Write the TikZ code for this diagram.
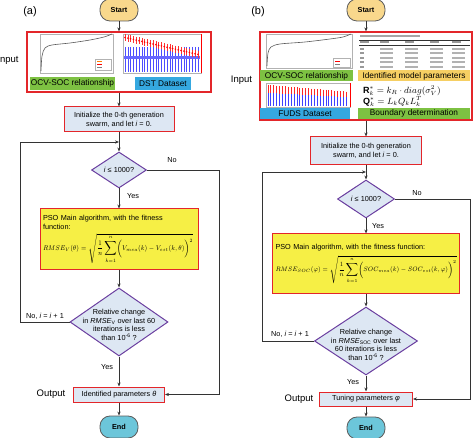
\documentclass[tikz,border=0pt]{standalone}
\usepackage{graphicx}
\usepackage{fontspec}
\setmainfont{Liberation Sans}
\usetikzlibrary{shapes.geometric,arrows.meta}

\definecolor{boxred}{HTML}{E3262A}
\definecolor{paleblue}{HTML}{DDE7F3}
\definecolor{fityellow}{HTML}{F6EF45}
\definecolor{startorange}{HTML}{F9D88C}
\definecolor{endcyan}{HTML}{6CC6DA}
\definecolor{dpurple}{HTML}{6B3FA0}
\definecolor{taggreen}{HTML}{7DC142}
\definecolor{tagblue}{HTML}{35A8E0}
\definecolor{tagyellow}{HTML}{F6CF63}
\definecolor{linegray}{HTML}{333333}

\tikzstyle{terminal} = [draw=linegray!80,line width=0.8pt,rounded corners=10pt,minimum width=38pt,minimum height=22pt,font=\fontsize{7.3}{8}\selectfont\bfseries]
\tikzstyle{process} = [draw=boxred,line width=1pt,fill=paleblue,align=center,inner sep=1pt]
\tikzstyle{decision} = [diamond,draw=dpurple,line width=1pt,fill=paleblue,inner sep=0pt]
\tikzstyle{fitness} = [draw=boxred,line width=1pt,fill=fityellow,align=left,inner sep=3pt]
\tikzstyle{inputbox} = [draw=boxred,line width=1.2pt,inner sep=0pt]
\tikzstyle{tag} = [inner sep=0pt,font=\fontsize{8.3}{9}\selectfont]
\tikzstyle{sidelabel} = [font=\fontsize{9.5}{11}\selectfont]
\tikzstyle{flow} = [-{Stealth[length=4pt,width=3.2pt]},linegray,line width=0.7pt]
\tikzstyle{frame} = [gray!60,line width=0.3pt]

\begin{document}
\begin{tikzpicture}[x=1pt,y=-1pt,font=\fontsize{7.3}{8.7}\selectfont]
		\useasboundingbox (0,0) rectangle (474,438);
		% ---------- (a) ----------
		\node[font=\fontsize{11}{12}\selectfont] (pa) at (30,12) {(a)};
		\node[terminal,fill=startorange] (sa) at (119,10) {Start};
		\node[inputbox,minimum width=184pt,minimum height=60pt] (ina) at (119,62) {};
		% OCV-SOC curve
		\draw[frame] (40,34) rectangle (113,73);
		\draw[gray!70!black,line width=0.6pt] plot[smooth] coordinates {(41,71) (42,56) (45,48) (52,45) (70,43) (90,40) (104,37) (112,34)};
		\draw[frame] (95,59) rectangle (111,70);
		\draw[orange,line width=0.3pt] (97,61.5) -- (102,61.5);
		\draw[red,line width=0.3pt] (97,64.5) -- (102,64.5);
		\draw[gray,line width=0.3pt] (97,67.5) -- (102,67.5);
		% DST data
		\draw[frame] (123,34) rectangle (201,73);
		\foreach \i in {0,...,26} \draw[blue!70,line width=0.4pt] (125+\i*2.8,47) -- (125+\i*2.8,72);
		\fill[blue!60] (124,56) rectangle (200,59.5);
		\foreach \i in {0,...,26} {
			\draw[red!80,line width=0.4pt] (125+\i*2.8,{34+\i*0.65}) -- ++(0,7);
			\fill[red] (125+\i*2.8,{37.5+\i*0.65}) circle (0.9pt);
		}
		\draw[red,line width=0.4pt] (201,34) -- (201,73);
		\node[tag,fill=taggreen,minimum width=85pt,minimum height=13pt] (ocva) at (72.5,83.5) {OCV-SOC relationship};
		\node[tag,fill=tagblue,minimum width=56pt,minimum height=13pt] (dsta) at (163,83.5) {DST Dataset};
		\node[sidelabel] (ia) at (8,60) {Input};
		\node[process,minimum width=110pt,minimum height=25pt] (inita) at (119,119.5) {Initialize the 0-th generation\\swarm, and let \textit{i} = 0.};
		\coordinate (ja) at (119,142);
		\node[decision,minimum width=55pt,minimum height=36pt] (da1) at (119,170) {};
		\node (ta1) at (119,170) {\textit{i} ≤ 1000?};
		\node[fitness,minimum width=158pt,minimum height=61pt,text width=152pt] (psoa) at (119,239.5) {PSO Main algorithm, with the fitness\\function:\\[3pt]\resizebox*{150pt}{30pt}{$\displaystyle RMSE_V(\theta)=\sqrt{\frac{1}{n}\sum_{k=1}^{n}\bigl(V_{mea}(k)-V_{est}(k,\theta)\bigr)^2}$}};
		\node[decision,minimum width=98pt,minimum height=68pt] (da2) at (119,322) {};
		\node[align=center] (ta2) at (119,325) {Relative change\\in \textit{RMSE}\textsubscript{V} over last 60\\iterations is less\\than 10\textsuperscript{-6} ?};
		\node[process,minimum width=91pt,minimum height=15pt] (outa) at (119,394.5) {Identified parameters \textit{θ}};
		\node[sidelabel] (oa) at (51,394) {Output};
		\node[terminal,fill=endcyan] (enda) at (119,427) {End};
		\coordinate (ra) at (219,170);
		\coordinate (la) at (20,322);
		\draw[flow] (sa) -- (ina);
		\draw[flow] (ina) -- (inita);
		\draw[flow] (inita) -- (da1);
		\draw[flow] (da1) -- (psoa);
		\draw[flow] (psoa) -- (da2);
		\draw[flow] (da2) -- (outa);
		\draw[flow] (outa) -- (enda);
		\draw[flow] (da1.east) -- (ra) |- (outa.east);
		\draw[flow] (da2.west) -- (la) |- (ja);
		\node (noa1) at (172,160) {No};
		\node (ya1) at (133,196) {Yes};
		\node (noa2) at (45,316) {No, \textit{i} = \textit{i} + 1};
		\node (ya2) at (107,367) {Yes};
		% ---------- (b) ----------
		\node[font=\fontsize{11}{12}\selectfont] (pb) at (258,12) {(b)};
		\node[terminal,fill=startorange] (sb) at (366,10) {Start};
		\node[inputbox,minimum width=212pt,minimum height=88pt] (inb) at (366,76) {};
		% OCV-SOC curve
		\draw[frame] (266,34) rectangle (352,68);
		\draw[gray!70!black,line width=0.6pt] plot[smooth] coordinates {(267,66) (268,53) (271,47) (280,44) (305,42) (330,39) (343,37) (351,34)};
		\draw[frame] (333,58) rectangle (350,67);
		\draw[red,line width=0.3pt] (335,61) -- (340,61);
		\draw[gray,line width=0.3pt] (335,64.5) -- (340,64.5);
		% table of parameters
		\fill[gray!70] (360,35.5) rectangle (420,37);
		\draw[linegray,line width=0.4pt] (359,40) -- (470,40);
		\draw[linegray,line width=0.4pt] (359,45) -- (470,45);
		\foreach \c in {360,380,405,430,452} \fill[gray!80] (\c,41.5) rectangle ++(9,2);
		\foreach \r in {48,52.5,57,61.5,66} {
			\fill[gray!80] (360,\r) rectangle ++(4,1.8);
			\foreach \c in {380,405,430,452} \fill[gray!60] (\c,\r) rectangle ++(13,1.8);
		}
		% FUDS data
		\draw[frame] (266,83) rectangle (350,107);
		\foreach \i in {0,...,27} {
			\draw[blue!75,line width=0.9pt] (268+\i*2.9,{92+\i*0.1}) -- (268+\i*2.9,106);
			\draw[red!85,line width=0.9pt] (268+\i*2.9,{85+\i*0.25}) -- ++(0,{8-\i*0.1});
		}
		\draw[red,line width=0.4pt] (350,83) -- (350,107);
		\node[tag,fill=taggreen,minimum width=93pt,minimum height=11pt] (ocvb) at (306.5,76) {OCV-SOC relationship};
		\node[tag,fill=tagyellow,minimum width=112pt,minimum height=11pt] (idb) at (414,76) {Identified model parameters};
		\node[tag,fill=tagblue,minimum width=90pt,minimum height=11pt] (fudsb) at (305,113.5) {FUDS Dataset};
		\node[tag,fill=taggreen,minimum width=112pt,minimum height=11pt] (bndb) at (414,113.5) {Boundary determination};
		\node[anchor=west,font=\fontsize{9}{10}\selectfont,inner sep=0pt] (eqr) at (363,90.5) {$\mathbf{R}_k^{*}=k_R\cdot diag(\sigma_V^2)$};
		\node[anchor=west,font=\fontsize{9}{10}\selectfont,inner sep=0pt] (eqq) at (363,101.5) {$\mathbf{Q}_k^{*}=L_kQ_kL_k^T$};
		\node[sidelabel] (ib) at (241.5,80) {Input};
		\node[process,minimum width=111pt,minimum height=28pt] (initb) at (366,151) {Initialize the 0-th generation\\swarm, and let \textit{i} = 0.};
		\coordinate (jb) at (366,172);
		\node[decision,minimum width=57pt,minimum height=38pt] (db1) at (366,199) {};
		\node (tb1) at (366,199) {\textit{i} ≤ 1000?};
		\node[fitness,minimum width=187pt,minimum height=60pt,text width=181pt] (psob) at (366,264) {PSO Main algorithm, with the fitness function:\\[4pt]\resizebox*{181pt}{28pt}{$\displaystyle RMSE_{SOC}(\varphi)=\sqrt{\frac{1}{n}\sum_{k=1}^{n}\bigl(SOC_{mea}(k)-SOC_{est}(k,\varphi)\bigr)^2}$}};
		\node[decision,minimum width=103pt,minimum height=68pt] (db2) at (366,341) {};
		\node[align=center] (tb2) at (366,345) {Relative change\\in \textit{RMSE}\textsubscript{SOC} over last\\60 iterations is less\\than 10\textsuperscript{-6} ?};
		\node[process,minimum width=93pt,minimum height=14pt] (outb) at (366,399) {Tuning parameters \textit{φ}};
		\node[sidelabel] (ob) at (299,399) {Output};
		\node[terminal,fill=endcyan] (endb) at (366,428) {End};
		\coordinate (rb) at (470,199);
		\coordinate (lb) at (262,341);
		\draw[flow] (sb) -- (inb);
		\draw[flow] (inb) -- (initb);
		\draw[flow] (initb) -- (db1);
		\draw[flow] (db1) -- (psob);
		\draw[flow] (psob) -- (db2);
		\draw[flow] (db2) -- (outb);
		\draw[flow] (outb) -- (endb);
		\draw[flow] (db1.east) -- (rb) |- (outb.east);
		\draw[flow] (db2.west) -- (lb) |- (jb);
		\node (nob1) at (417,193) {No};
		\node (yb1) at (378,226) {Yes};
		\node (nob2) at (290,334) {No, \textit{i} = \textit{i} + 1};
		\node (yb2) at (353,382) {Yes};
		\end{tikzpicture}
\end{document}
